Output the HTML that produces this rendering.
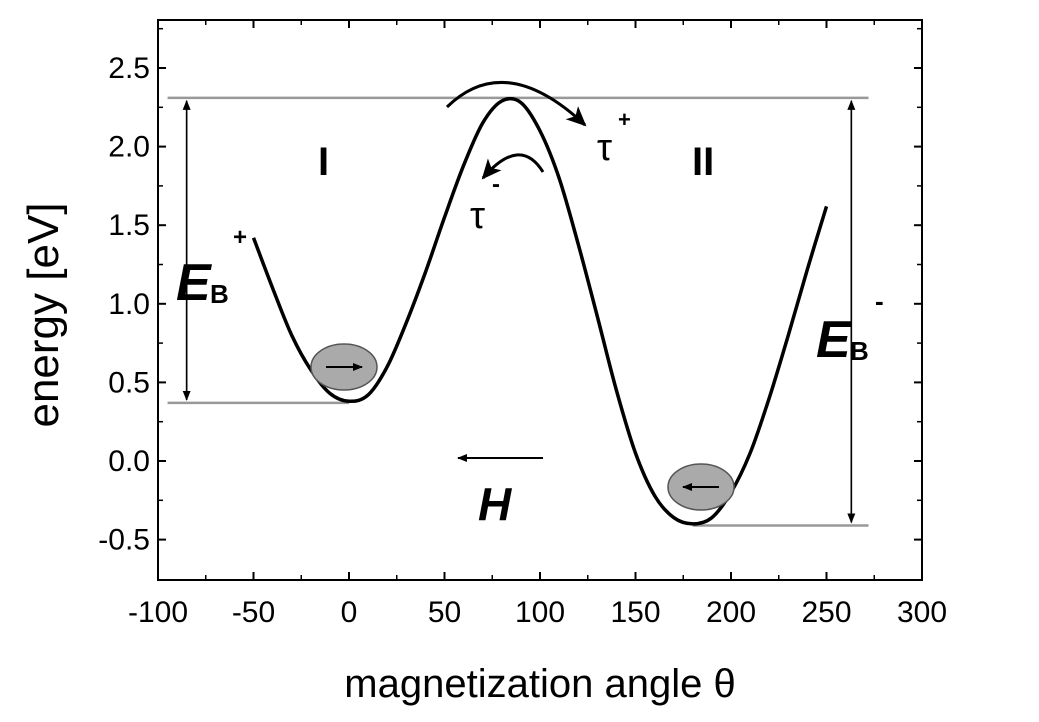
<!DOCTYPE html>
<html><head><meta charset="utf-8"><style>
body{margin:0;background:#fff;}
svg{display:block;font-family:"Liberation Sans",sans-serif;}
</style></head><body>
<svg id="chart" width="1039" height="722">
<defs>
<marker id="ah" markerWidth="10" markerHeight="10" refX="9" refY="5" orient="auto" markerUnits="userSpaceOnUse"><path d="M0,1 L10,5 L0,9 z" fill="#000"/></marker>
<marker id="ahb" markerWidth="22" markerHeight="18" refX="18" refY="9" orient="auto" markerUnits="userSpaceOnUse"><path d="M0,0 L20,9 L0,18 L5,9 z" fill="#000"/></marker>
</defs>
<g id="axes"></g>
<g id="marks"></g>
</svg>
<script>
const angles=[-50,-40,-30,-20,-10,0,10,20,30,40,50,60,70,80,90,100,110,120,130,140,150,160,170,180,190,200,210,220,230,240,250];
const energies=[1.42,1.1,0.8,0.58,0.43,0.38,0.42,0.6,0.88,1.2,1.55,1.88,2.15,2.29,2.28,2.1,1.8,1.38,0.92,0.45,0.05,-0.22,-0.36,-0.4,-0.36,-0.2,0.05,0.4,0.8,1.22,1.62];
const xTicks=[-100,-50,0,50,100,150,200,250,300];
const yTicks=[-0.5,0.0,0.5,1.0,1.5,2.0,2.5];
const yTickLabels=["-0.5","0.0","0.5","1.0","1.5","2.0","2.5"];
const barrierTop=2.31, minLeft=0.37, minRight=-0.41;

const L=158,R=922,T=20,B=580;
const X=v=>L+(v+100)*(R-L)/400;
const Y=v=>461-v*157.2;
const NS="http://www.w3.org/2000/svg";
function mk(tag,attrs,parent,txt){const e=document.createElementNS(NS,tag);for(const k in attrs){if(k==='font-size'){e.style.fontSize=attrs[k]+'px';}else e.setAttribute(k,attrs[k]);}if(txt!==undefined)e.textContent=txt;parent.appendChild(e);return e;}
const ax=document.getElementById('axes'),mg=document.getElementById('marks');
let e=mk('rect',{x:L,y:T,width:R-L,height:B-T,fill:'none',stroke:'#000','stroke-width':2},ax);

xTicks.forEach((t,i)=>{
  mk('line',{x1:X(t),x2:X(t),y1:B,y2:B-8,stroke:'#000','stroke-width':2},ax);
  mk('line',{x1:X(t),x2:X(t),y1:T,y2:T+8,stroke:'#000','stroke-width':2},ax);
  if(i<xTicks.length-1){const m=t+25;mk('line',{x1:X(m),x2:X(m),y1:B,y2:B-5,stroke:'#000','stroke-width':1.5},ax);mk('line',{x1:X(m),x2:X(m),y1:T,y2:T+5,stroke:'#000','stroke-width':1.5},ax);}
  const tx=mk('text',{x:X(t),y:B+42,'text-anchor':'middle','font-size':30},ax,String(t));
  
});
yTicks.forEach((t,i)=>{
  mk('line',{x1:L,x2:L+8,y1:Y(t),y2:Y(t),stroke:'#000','stroke-width':2},ax);
  mk('line',{x1:R,x2:R-8,y1:Y(t),y2:Y(t),stroke:'#000','stroke-width':2},ax);
  const m=t+0.25;mk('line',{x1:L,x2:L+5,y1:Y(m),y2:Y(m),stroke:'#000','stroke-width':1.5},ax);mk('line',{x1:R,x2:R-5,y1:Y(m),y2:Y(m),stroke:'#000','stroke-width':1.5},ax);
  const ty=mk('text',{x:L-8,y:Y(t)+10,'text-anchor':'end','font-size':30},ax,yTickLabels[i]);
  
});
e=mk('text',{x:540,y:697,'text-anchor':'middle','font-size':40},ax,'magnetization angle θ');

e=mk('text',{x:58,y:315,'text-anchor':'middle','font-size':44,transform:'rotate(-90 58 315)'},ax,'energy [eV]');


function hl(a,b,v,n){const l=mk('line',{x1:X(a),x2:X(b),y1:Y(v),y2:Y(v),stroke:'#999','stroke-width':2.5},mg);}
hl(-95,272,barrierTop,'barrier-top-line');hl(-95,0,minLeft,'left-minimum-line');hl(180,272,minRight,'right-minimum-line');
function va(x,v1,v2,n){const g=mk('g',{},mg);
 mk('line',{x1:X(x),x2:X(x),y1:Y(v1)+3,y2:Y(v2)-3,stroke:'#000','stroke-width':1.5,'marker-end':'url(#ah)'},g);
 mk('line',{x1:X(x),x2:X(x),y1:Y(v2)-3,y2:Y(v1)+3,stroke:'#000','stroke-width':1.5,'marker-end':'url(#ah)'},g);}
va(-85,barrierTop,minLeft,'eb-plus-arrow');va(263,barrierTop,minRight,'eb-minus-arrow');

let d='';angles.forEach((a,i)=>{const px=X(a),py=Y(energies[i]);
 if(i===0)d+=`M${px},${py}`;else{const p0=i>1?[X(angles[i-2]),Y(energies[i-2])]:[X(angles[i-1]),Y(energies[i-1])];const p1=[X(angles[i-1]),Y(energies[i-1])];const p3=i<angles.length-1?[X(angles[i+1]),Y(energies[i+1])]:[px,py];
 d+=` C${p1[0]+(px-p0[0])/6},${p1[1]+(py-p0[1])/6} ${px-(p3[0]-p1[0])/6},${py-(p3[1]-p1[1])/6} ${px},${py}`;}});
e=mk('path',{d:d,fill:'none',stroke:'#000','stroke-width':3.5},mg);


function ell(cx,cy,dir,n){const g=mk('g',{},mg);
 mk('ellipse',{cx:cx,cy:cy,rx:33,ry:23,fill:'#aaa',stroke:'#555','stroke-width':1.5},g);
 mk('line',{x1:cx-dir*18,x2:cx+dir*18,y1:cy,y2:cy,stroke:'#000','stroke-width':2,'marker-end':'url(#ah)'},g);}
ell(344,367,1,'left-magnet-state');ell(701,487,-1,'right-magnet-state');

e=mk('path',{d:'M447,107 Q505,50 585,125',fill:'none',stroke:'#000','stroke-width':3,'marker-end':'url(#ahb)'},mg);

e=mk('path',{d:'M543,172 Q520,135 483,178',fill:'none',stroke:'#000','stroke-width':3,'marker-end':'url(#ahb)'},mg);

e=mk('line',{x1:543,x2:458,y1:458,y2:458,stroke:'#000','stroke-width':2,'marker-end':'url(#ah)'},mg);


function txt(x,y,s,size,n,extra){const t=mk('text',Object.assign({x:x,y:y,'font-size':size},extra||{}),mg,s);return t;}
txt(318,175,'I',40,'region-one-label',{'font-weight':'bold'});
txt(692,175,'II',40,'region-two-label',{'font-weight':'bold'});
txt(597,160,'τ',38,'tau-plus-label');txt(618,127,'+',22,'tau-plus-sup',{'font-weight':'bold'});
txt(470,228,'τ',38,'tau-minus-label');txt(492,192,'-',24,'tau-minus-sup',{'font-weight':'bold'});
txt(478,520,'H',46,'field-label',{'font-weight':'bold','font-style':'italic'});
txt(176,300,'E',52,'eb-plus-label',{'font-style':'italic','font-weight':'bold'});txt(210,303,'B',26,'eb-plus-sub',{'font-weight':'bold'});txt(233,245,'+',24,'eb-plus-sup',{'font-weight':'bold'});
txt(816,357,'E',52,'eb-minus-label',{'font-style':'italic','font-weight':'bold'});txt(850,360,'B',26,'eb-minus-sub',{'font-weight':'bold'});txt(875,310,'-',26,'eb-minus-sup',{'font-weight':'bold'});
</script>
</body></html>
